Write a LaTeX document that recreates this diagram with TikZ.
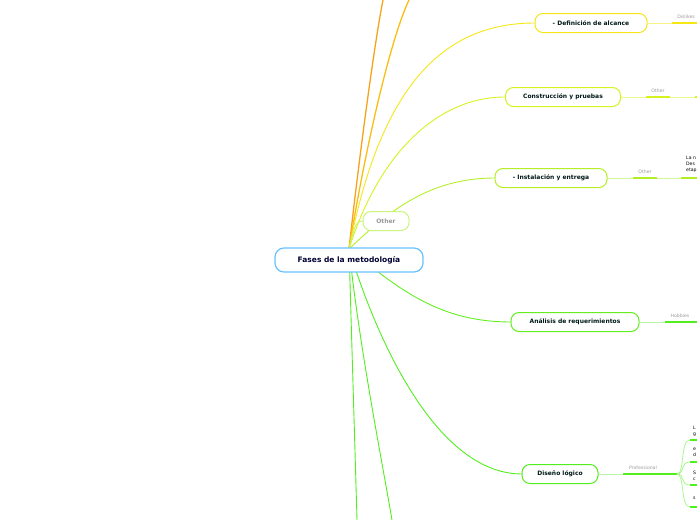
\documentclass[tikz,border=0pt]{standalone}
\usepackage{fontspec}
\setmainfont{DejaVu Sans}
\begin{document}
\begin{tikzpicture}[x=1pt,y=-1pt,
  br/.style={rounded corners=8pt,draw,line width=1pt,fill=white,font=\bfseries\fontsize{6}{7}\selectfont,text=black!80!teal,minimum height=19pt,inner xsep=2pt},
  lab/.style={font=\fontsize{4.6}{6}\selectfont,text=black!40,inner sep=1pt},
  leaf/.style={font=\fontsize{4.6}{5.8}\selectfont,text=black,align=left,anchor=north west,inner sep=0pt},
  con/.style={line width=0.9pt},
  cen/.style={rounded corners=9pt,draw=blue!40!cyan!60!white,line width=1.2pt,fill=white,font=\bfseries\fontsize{7.5}{9}\selectfont,text=black!80!blue,minimum width=148pt,minimum height=24pt}]
\useasboundingbox (0,0) rectangle (697,520);
\definecolor{ora}{HTML}{F7A21B}
\definecolor{yel}{HTML}{F5E616}
\definecolor{ygr}{HTML}{D6F21F}
\definecolor{lgr}{HTML}{A6EE2A}
\definecolor{grn}{HTML}{52EE1E}
\coordinate (top) at (349,249);
\coordinate (o1) at (383,0);
\coordinate (o2) at (409,0);
\coordinate (g1) at (357,520);
\coordinate (g2) at (392,520);
\draw[line width=1.3pt,ora] (top) .. controls (360,150) and (375,40) .. (o1);
\draw[line width=1.3pt,ora!70!yellow] (top) .. controls (365,150) and (390,40) .. (o2);
\path (591,23) coordinate (dp) (563,97) coordinate (cp) (551,178) coordinate (ip)
      (386,221) coordinate (op) (575,322) coordinate (ap) (560,474) coordinate (dlp);
\draw[con,yel] (top) .. controls (380,90) and (440,23) .. (535,23);
\draw[con,ygr] (top) .. controls (380,150) and (440,97) .. (505,97);
\draw[con,lgr!70!ygr] (top) .. controls (390,210) and (430,178) .. (495,178);
\draw[con,lgr!70] (top) .. controls (355,225) and (356,221) .. (363,221);
\draw[con,grn!80!lgr] (top) .. controls (400,290) and (440,322) .. (511,322);
\draw[con,grn] (top) .. controls (380,350) and (440,474) .. (522,474);
\draw[con,grn] (top) .. controls (352,350) and (355,450) .. (g1);
\draw[con,grn] (top) .. controls (360,350) and (380,450) .. (g2);
\node[br,draw=yel,minimum width=112pt] (d) at (dp) {- Definición de alcance};
\node[br,draw=ygr,minimum width=115pt] (c) at (cp) {Construcción y pruebas};
\node[br,draw=lgr!70!ygr,minimum width=112pt] (i) at (ip) {- Instalación y entrega};
\node[br,draw=lgr!60,text=black!40,minimum width=46pt] (o) at (op) {Other};
\node[br,draw=grn!80!lgr,minimum width=128pt] (a) at (ap) {Análisis de requerimientos};
\node[br,draw=grn,minimum width=76pt] (dl) at (dlp) {Diseño lógico};
\node[cen] (f) at (349,260) {Fases de la metodología};
\coordinate (de) at (697,23);
\draw[yel!50,line width=0.6pt] (d.east) -- (de);
\draw[yel,line width=1.2pt] (672,23) -- (de);
\node[lab] at (686,17) {Dislikes};
\coordinate (ce) at (697,97);
\draw[ygr!50,line width=0.6pt] (c.east) -- (ce);
\draw[ygr,line width=1.2pt] (646,97) -- (670,97);
\draw[ygr,line width=1.2pt] (695,97) -- (ce);
\node[lab] at (658,91) {Other};
\coordinate (ie) at (697,178);
\draw[lgr!50,line width=0.6pt] (i.east) -- (ie);
\draw[lgr!80!ygr,line width=1.2pt] (633,178) -- (657,178);
\draw[lgr!80!ygr,line width=1.2pt] (681,178) -- (ie);
\node[lab] at (645,172) {Other};
\node[leaf] at (686,156) {La n\\Des\\etap};
\coordinate (ae) at (697,322);
\draw[grn!40,line width=0.6pt] (a.east) -- (ae);
\draw[grn,line width=1.2pt] (665,322) -- (ae);
\node[lab] at (680,316) {Hobbies};
\coordinate (hub) at (677,474);
\draw[grn!40,line width=0.6pt] (dl.east) -- (hub);
\draw[grn,line width=1.2pt] (623,474) -- (hub);
\node[lab] at (643,468) {Professional};
\foreach \yy in {440,462,485,507}{
  \draw[grn!50,line width=0.8pt] (hub) .. controls (685,474) and (680,\yy) .. (690,\yy) -- (697,\yy);
  \draw[grn,line width=1.2pt] (690,\yy) -- (697,\yy);
}
\node[leaf] at (693,426) {L\\g};
\node[leaf] at (693,448) {e\\d};
\node[leaf] at (693,471) {S\\c};
\node[leaf] at (693,497) {s};
\end{tikzpicture}
\end{document}
